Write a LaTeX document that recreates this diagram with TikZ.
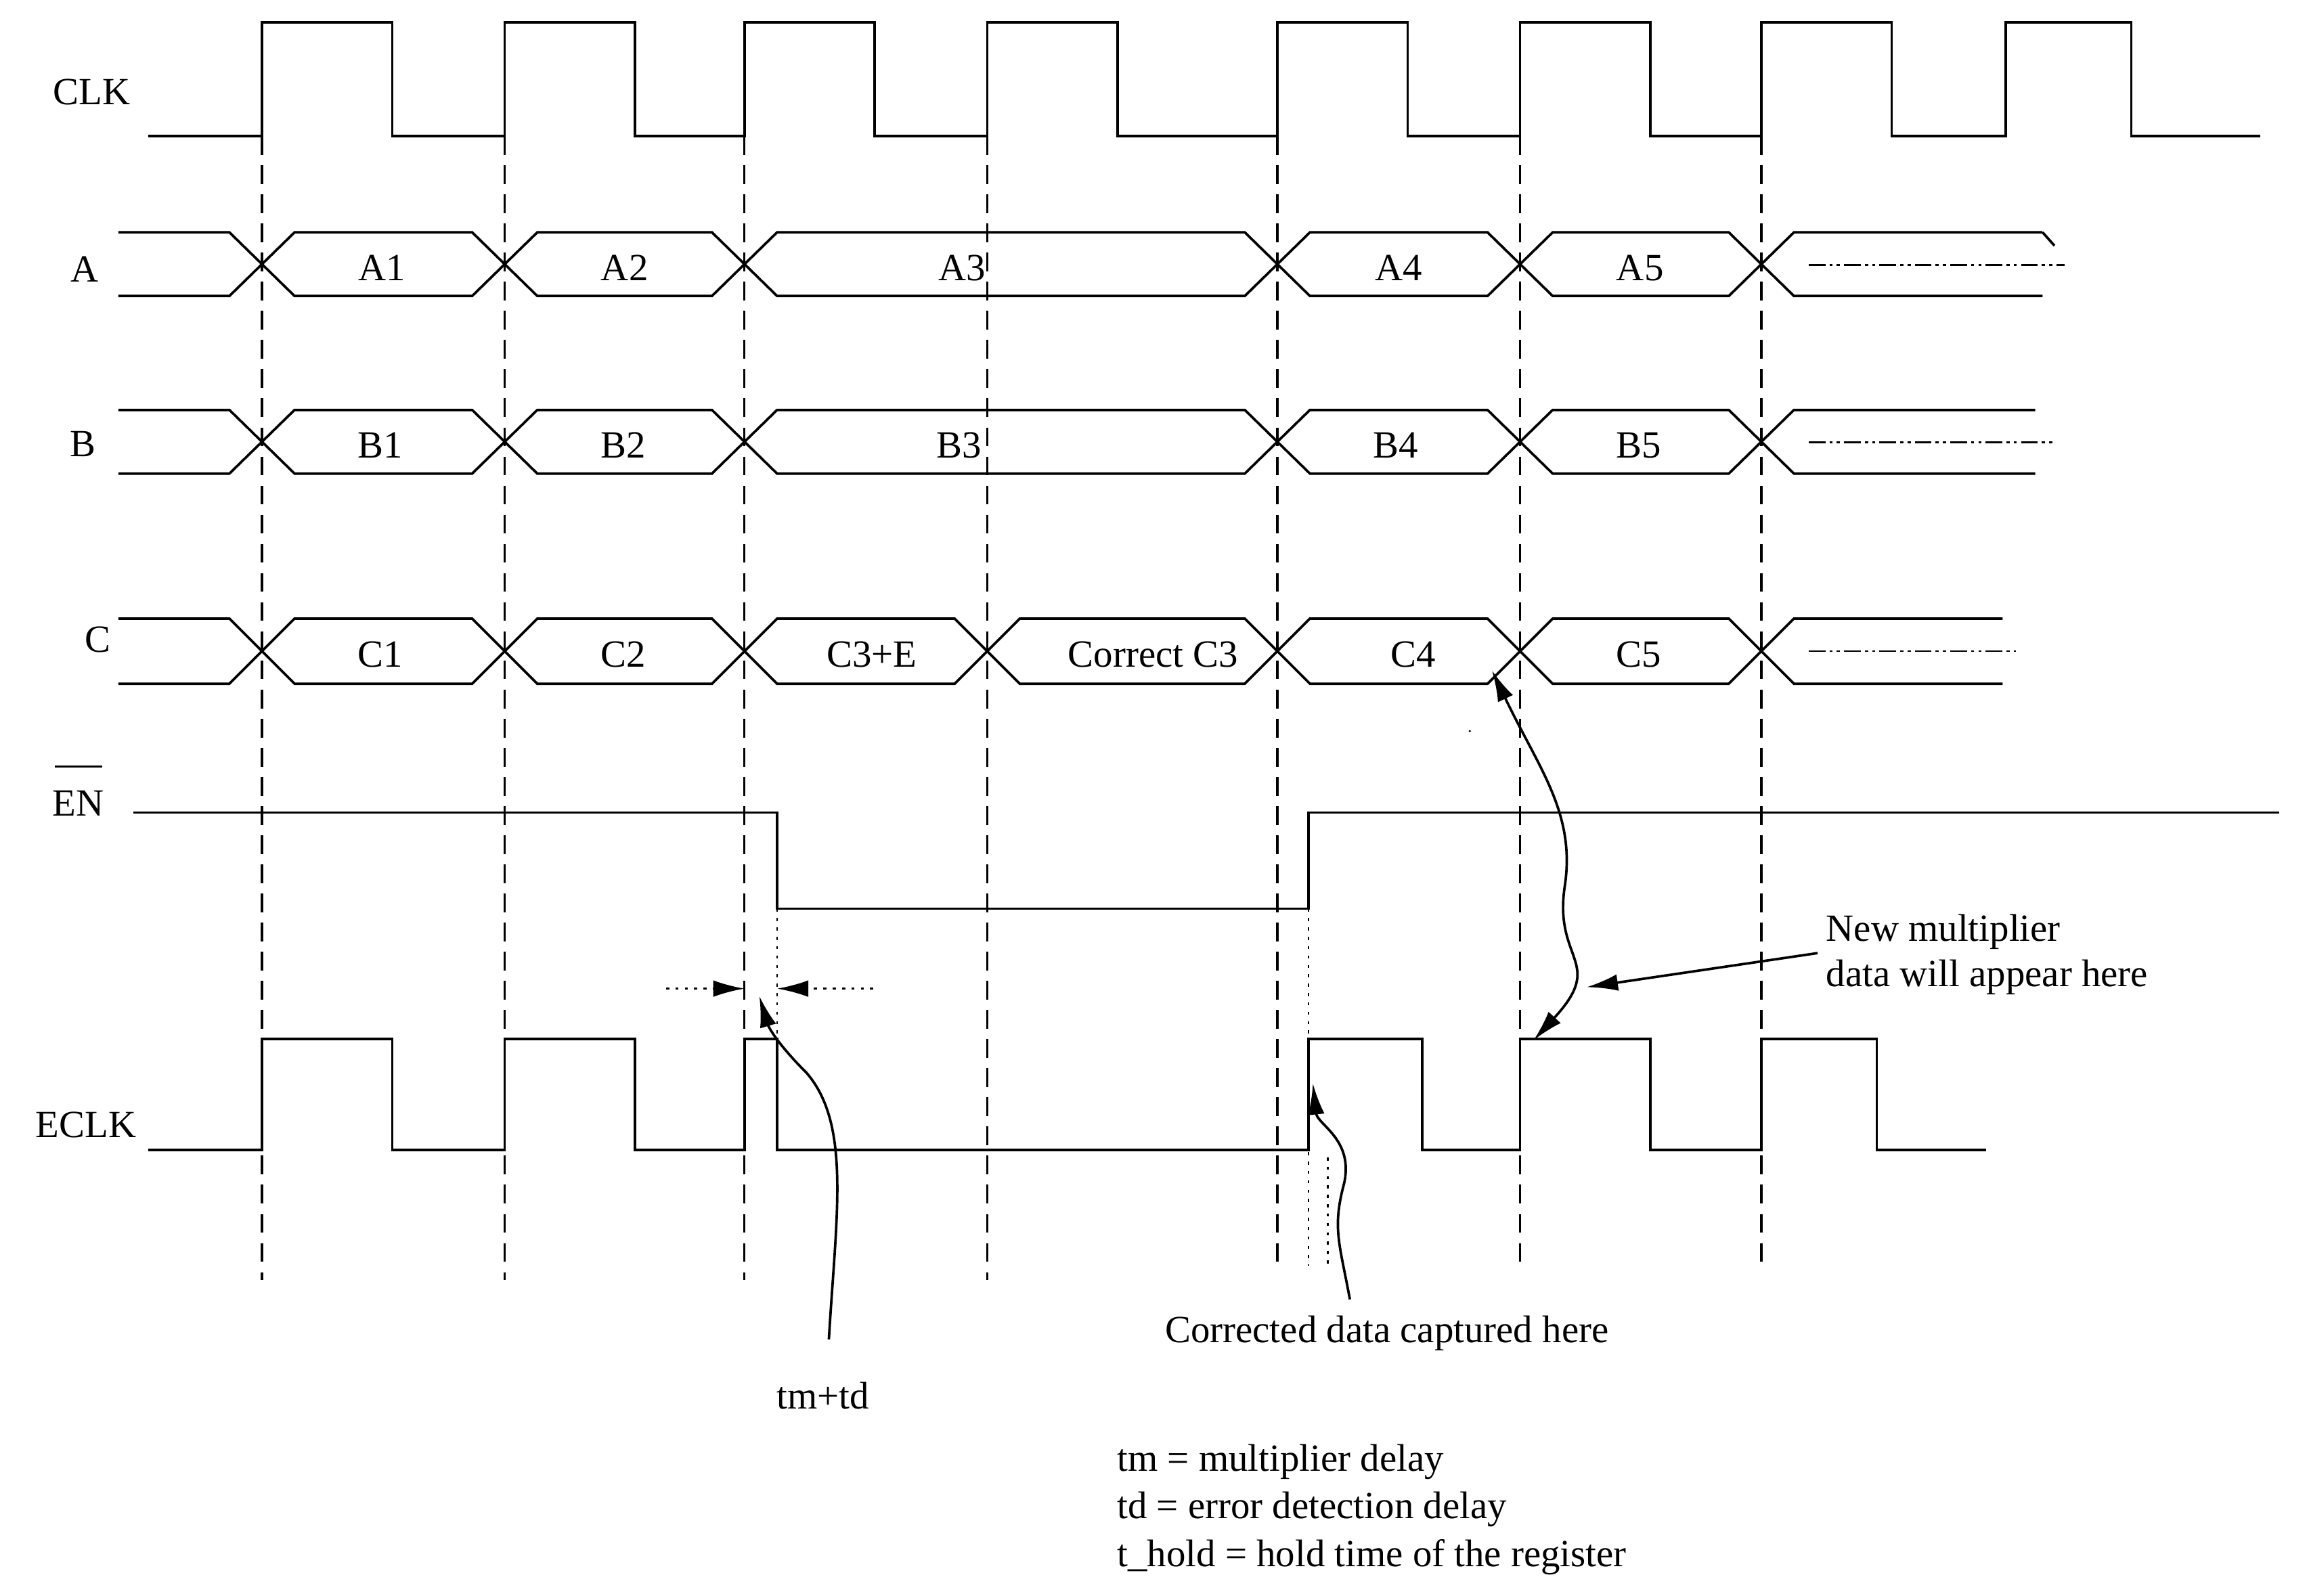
\documentclass[tikz,border=0pt]{standalone}
\usepackage{fontspec}
\setmainfont{Liberation Serif}
\usetikzlibrary{arrows.meta}
\begin{document}
\begin{tikzpicture}[x=0.25mm,y=-0.25mm,line width=1.2pt,
  lbl/.style={font=\fontsize{18.5}{22}\selectfont,inner sep=0pt},
  vdash/.style={line width=1pt,dash pattern=on 9pt off 5pt},
  vdot/.style={line width=0.9pt,dash pattern=on 1.5pt off 3pt},
  tip/.style={-{Latex[length=15pt,width=8pt]}}]
\useasboundingbox (0,0) rectangle (1560,1078);
% clock
\draw (100,92) -- (177,92) -- (177,15) -- (265,15) -- (265,92) -- (341,92) -- (341,15) -- (429,15) -- (429,92)
 -- (503,92) -- (503,15) -- (591,15) -- (591,92) -- (667,92) -- (667,15) -- (755,15) -- (755,92)
 -- (863,92) -- (863,15) -- (951,15) -- (951,92) -- (1027,92) -- (1027,15) -- (1115,15) -- (1115,92)
 -- (1190,92) -- (1190,15) -- (1278,15) -- (1278,92) -- (1355,92) -- (1355,15) -- (1440,15) -- (1440,92) -- (1527,92);
% dashed verticals
\foreach \x/\e in {177/865,341/865,503/865,667/865,863/855,1027/855,1190/855}
  \draw[vdash] (\x,92) -- (\x,\e);
% buses
\foreach \t/\b/\ee/\xs in {157/200/1380/{177/341,341/503,503/863,863/1027,1027/1190},
                        277/320/1375/{177/341,341/503,503/863,863/1027,1027/1190},
                        418/462/1353/{177/341,341/503,503/667,667/863,863/1027,1027/1190}}{
  \pgfmathsetmacro{\m}{(\t+\b)/2}
  \foreach \p/\q in \xs
    \draw (\p,\m) -- (\p+22,\t) -- (\q-22,\t) -- (\q,\m) -- (\q-22,\b) -- (\p+22,\b) -- cycle;
  \draw (80,\t) -- (155,\t) -- (177,\m) -- (155,\b) -- (80,\b);
  \draw (\ee,\t) -- (1212,\t) -- (1190,\m) -- (1212,\b) -- (\ee,\b);
}
\draw (1380,157) -- (1388,166);
\draw[line width=0.9pt,dash pattern=on 8pt off 2pt on 1.5pt off 2pt on 1.5pt off 2pt] (1222,179) -- (1395,179);
\draw[line width=0.9pt,dash pattern=on 8pt off 2pt on 1.5pt off 2pt on 1.5pt off 2pt] (1222,299) -- (1388,299);
\draw[line width=0.9pt,dash pattern=on 8pt off 2pt on 1.5pt off 2pt on 1.5pt off 2pt] (1222,440) -- (1362,440);
% bus labels
\foreach \x/\s in {258/A1,422/A2,650/A3,945/A4,1108/A5} \node[lbl] at (\x,181) {\s};
\foreach \x/\s in {257/B1,421/B2,648/B3,943/B4,1107/B5} \node[lbl] at (\x,301) {\s};
\foreach \x/\s in {257/C1,421/C2,589/C3+E,779/Correct C3,955/C4,1107/C5} \node[lbl] at (\x,442) {\s};
% signal labels
\node[lbl] (clk) at (62,62) {CLK};
\node[lbl] (a) at (57,182) {A};
\node[lbl] (b) at (56,300) {B};
\node[lbl] (c) at (66,432) {C};
\node[lbl] (en) at (53,543) {EN};
\draw[line width=1pt] (37,518) -- (69,518);
\node[lbl] (eclk) at (58,760) {ECLK};
% EN
\draw (90,549) -- (525,549) -- (525,614) -- (884,614) -- (884,549) -- (1540,549);
% ECLK
\draw (100,777) -- (177,777) -- (177,702) -- (265,702) -- (265,777) -- (341,777) -- (341,702) -- (429,702) -- (429,777)
 -- (503,777) -- (503,702) -- (525,702) -- (525,777) -- (884,777) -- (884,702) -- (961,702) -- (961,777)
 -- (1027,777) -- (1027,702) -- (1115,702) -- (1115,777) -- (1190,777) -- (1190,702) -- (1268,702) -- (1268,777) -- (1342,777);
% dotted lines
\draw[vdot] (525,614) -- (525,702);
\draw[vdot] (884,614) -- (884,855);
\draw[vdot] (897,782) -- (897,855);
\coordinate (l1) at (450,668); \coordinate (l2) at (503,668);
\coordinate (r1) at (590,668); \coordinate (r2) at (525,668);
\draw[vdot,tip] (l1) -- (l2);
\draw[vdot,tip] (r1) -- (r2);
% tm+td
\node[lbl] (tmtd) at (556,943) {tm+td};
\coordinate (tmtop) at (560,905);
\coordinate (tmtip) at (513,673);
\draw[tip] (tmtop) .. controls (565,820) and (575,760) .. (545,725) .. controls (520,700) and (518,690) .. (tmtip);
% corrected
\node[lbl] (corr) at (937,901) {Corrected data captured here};
\coordinate (ctop) at (912,878);
\coordinate (ctip) at (887,732);
\draw[tip] (ctop) .. controls (905,840) and (900,830) .. (908,800) .. controls (915,770) and (890,760) .. (ctip);
% new multiplier
\node[lbl,align=left,anchor=west] (newm) at (1233,645) {New multiplier\\data will appear here};
\coordinate (ntail) at (1228,644);
\coordinate (nhead) at (1072,667);
\draw[tip] (ntail) -- (nhead);
\coordinate (c4tip) at (1008,453);
\coordinate (etip) at (1036,703);
\draw[{Latex[length=15pt,width=8pt]}-{Latex[length=15pt,width=8pt]}] (c4tip) .. controls (1040,520) and (1065,550) .. (1057,600)
  .. controls (1050,650) and (1085,650) .. (etip);
\fill (993,494) circle (0.8);
% legend
\node[lbl,align=left,anchor=north west] (leg) at (754,975) {tm = multiplier delay\\[1pt]td = error detection delay\\[1pt]t\_hold = hold time of the register};
\end{tikzpicture}
\end{document}
